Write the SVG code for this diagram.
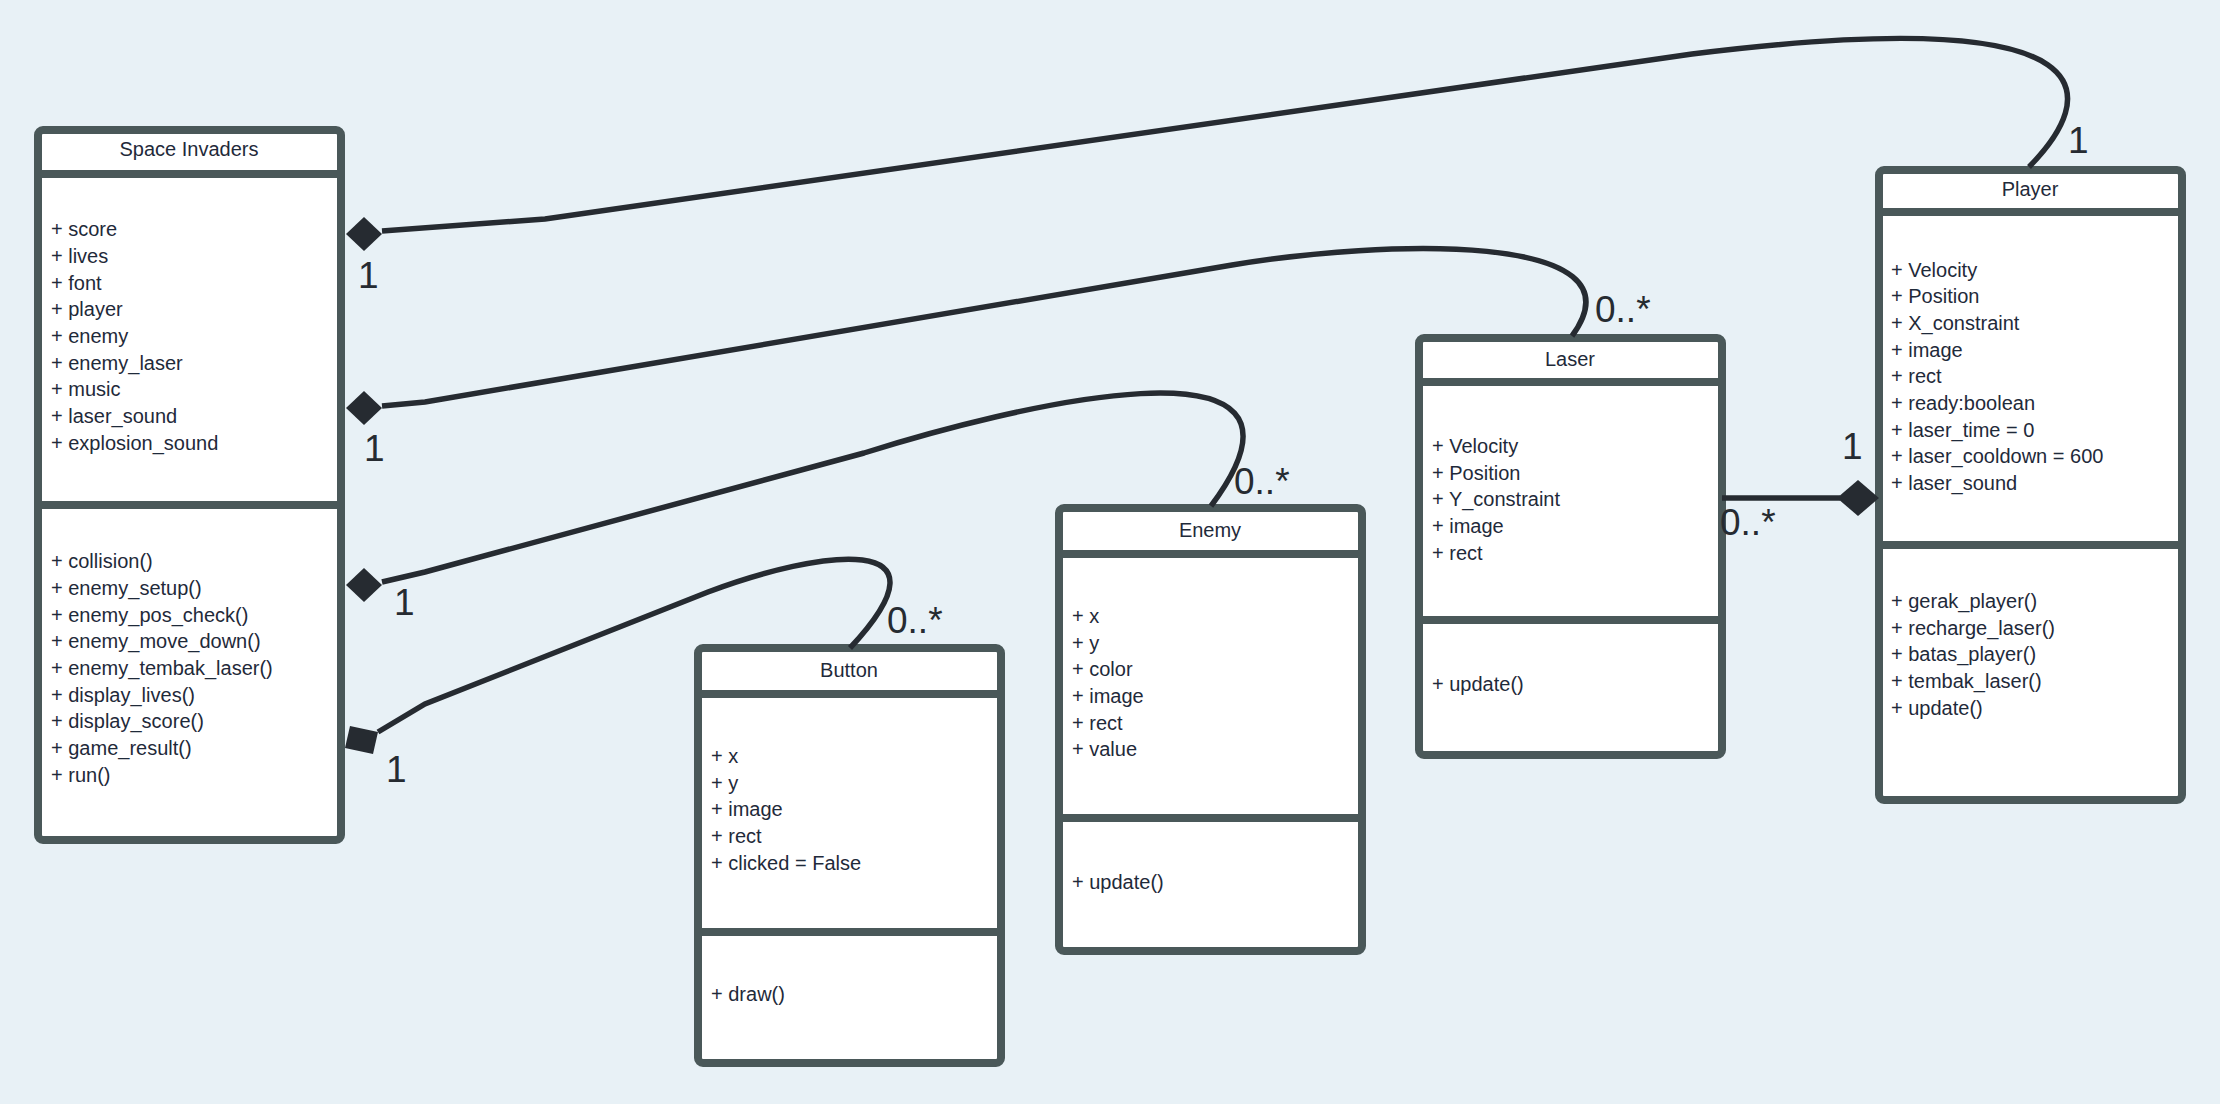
<svg xmlns="http://www.w3.org/2000/svg" width="2220" height="1104" viewBox="0 0 2220 1104">
<style>
.box{fill:#fff;stroke:#4a5859;stroke-width:8}
.div{stroke:#4a5859;stroke-width:8}
.t{font-family:"Liberation Sans",Arial,sans-serif;font-size:20px;fill:#1f2a3a}
.h{text-anchor:middle}
.c{fill:none;stroke:#262b31;stroke-width:5.5}
.d{fill:#262b31}
.l{font-family:"Liberation Sans",Arial,sans-serif;font-size:37px;fill:#262b31}
</style>
<rect width="2220" height="1104" fill="#e8f1f6"/>
<g id="space_invaders">
<rect class="box" x="38" y="130" width="303" height="710" rx="5"/>
<line class="div" x1="38" y1="174" x2="341" y2="174"/>
<line class="div" x1="38" y1="505" x2="341" y2="505"/>
<text class="t h" x="189" y="156">Space Invaders</text>
<text class="t" x="51" y="236">+ score</text>
<text class="t" x="51" y="263">+ lives</text>
<text class="t" x="51" y="290">+ font</text>
<text class="t" x="51" y="316">+ player</text>
<text class="t" x="51" y="343">+ enemy</text>
<text class="t" x="51" y="370">+ enemy_laser</text>
<text class="t" x="51" y="396">+ music</text>
<text class="t" x="51" y="423">+ laser_sound</text>
<text class="t" x="51" y="450">+ explosion_sound</text>
<text class="t" x="51" y="568">+ collision()</text>
<text class="t" x="51" y="595">+ enemy_setup()</text>
<text class="t" x="51" y="622">+ enemy_pos_check()</text>
<text class="t" x="51" y="648">+ enemy_move_down()</text>
<text class="t" x="51" y="675">+ enemy_tembak_laser()</text>
<text class="t" x="51" y="702">+ display_lives()</text>
<text class="t" x="51" y="728">+ display_score()</text>
<text class="t" x="51" y="755">+ game_result()</text>
<text class="t" x="51" y="782">+ run()</text>
</g>
<g id="player">
<rect class="box" x="1879" y="170" width="303" height="630" rx="5"/>
<line class="div" x1="1879" y1="212" x2="2182" y2="212"/>
<line class="div" x1="1879" y1="545" x2="2182" y2="545"/>
<text class="t h" x="2030" y="196">Player</text>
<text class="t" x="1891" y="277">+ Velocity</text>
<text class="t" x="1891" y="303">+ Position</text>
<text class="t" x="1891" y="330">+ X_constraint</text>
<text class="t" x="1891" y="357">+ image</text>
<text class="t" x="1891" y="383">+ rect</text>
<text class="t" x="1891" y="410">+ ready:boolean</text>
<text class="t" x="1891" y="437">+ laser_time = 0</text>
<text class="t" x="1891" y="463">+ laser_cooldown = 600</text>
<text class="t" x="1891" y="490">+ laser_sound</text>
<text class="t" x="1891" y="608">+ gerak_player()</text>
<text class="t" x="1891" y="635">+ recharge_laser()</text>
<text class="t" x="1891" y="661">+ batas_player()</text>
<text class="t" x="1891" y="688">+ tembak_laser()</text>
<text class="t" x="1891" y="715">+ update()</text>
</g>
<g id="laser">
<rect class="box" x="1419" y="338" width="303" height="417" rx="5"/>
<line class="div" x1="1419" y1="382" x2="1722" y2="382"/>
<line class="div" x1="1419" y1="620" x2="1722" y2="620"/>
<text class="t h" x="1570" y="366">Laser</text>
<text class="t" x="1432" y="453">+ Velocity</text>
<text class="t" x="1432" y="480">+ Position</text>
<text class="t" x="1432" y="506">+ Y_constraint</text>
<text class="t" x="1432" y="533">+ image</text>
<text class="t" x="1432" y="560">+ rect</text>
<text class="t" x="1432" y="691">+ update()</text>
</g>
<g id="enemy">
<rect class="box" x="1059" y="508" width="303" height="443" rx="5"/>
<line class="div" x1="1059" y1="554" x2="1362" y2="554"/>
<line class="div" x1="1059" y1="818" x2="1362" y2="818"/>
<text class="t h" x="1210" y="537">Enemy</text>
<text class="t" x="1072" y="623">+ x</text>
<text class="t" x="1072" y="650">+ y</text>
<text class="t" x="1072" y="676">+ color</text>
<text class="t" x="1072" y="703">+ image</text>
<text class="t" x="1072" y="730">+ rect</text>
<text class="t" x="1072" y="756">+ value</text>
<text class="t" x="1072" y="889">+ update()</text>
</g>
<g id="button">
<rect class="box" x="698" y="648" width="303" height="415" rx="5"/>
<line class="div" x1="698" y1="694" x2="1001" y2="694"/>
<line class="div" x1="698" y1="932" x2="1001" y2="932"/>
<text class="t h" x="849" y="677">Button</text>
<text class="t" x="711" y="763">+ x</text>
<text class="t" x="711" y="790">+ y</text>
<text class="t" x="711" y="816">+ image</text>
<text class="t" x="711" y="843">+ rect</text>
<text class="t" x="711" y="870">+ clicked = False</text>
<text class="t" x="711" y="1001">+ draw()</text>
</g>
<g id="connectors">
<path class="c" d="M382,231 L545,219 L1692,54 C2124,0 2096,99 2029,167"/>
<polygon class="d" points="346,234 364,217 382,234 364,251"/>
<text class="l" x="358" y="288">1</text>
<text class="l" x="2068" y="153">1</text>
<path class="c" d="M382,406 L425,402 L1232,265 C1380,240 1650,230 1572,336"/>
<polygon class="d" points="346,408 364,391 382,408 364,425"/>
<text class="l" x="364" y="461">1</text>
<text class="l" x="1595" y="322">0..*</text>
<path class="c" d="M382,582 L425,572 L864,453 C1000,410 1350,320 1211,506"/>
<polygon class="d" points="346,585 364,568 382,585 364,602"/>
<text class="l" x="394" y="615">1</text>
<text class="l" x="1234" y="494">0..*</text>
<path class="c" d="M378,732 L425,704 L708,592 C820,550 960,530 850,648"/>
<polygon class="d" points="345,748 350,726 378,732 373,754" transform="rotate(0)"/>
<text class="l" x="386" y="782">1</text>
<text class="l" x="887" y="633">0..*</text>
<path class="c" d="M1722,498 L1840,498"/>
<polygon class="d" points="1837,498 1858,480 1879,498 1858,516"/>
<text class="l" x="1842" y="459">1</text>
<text class="l" x="1720" y="535">0..*</text>
</g>
</svg>
